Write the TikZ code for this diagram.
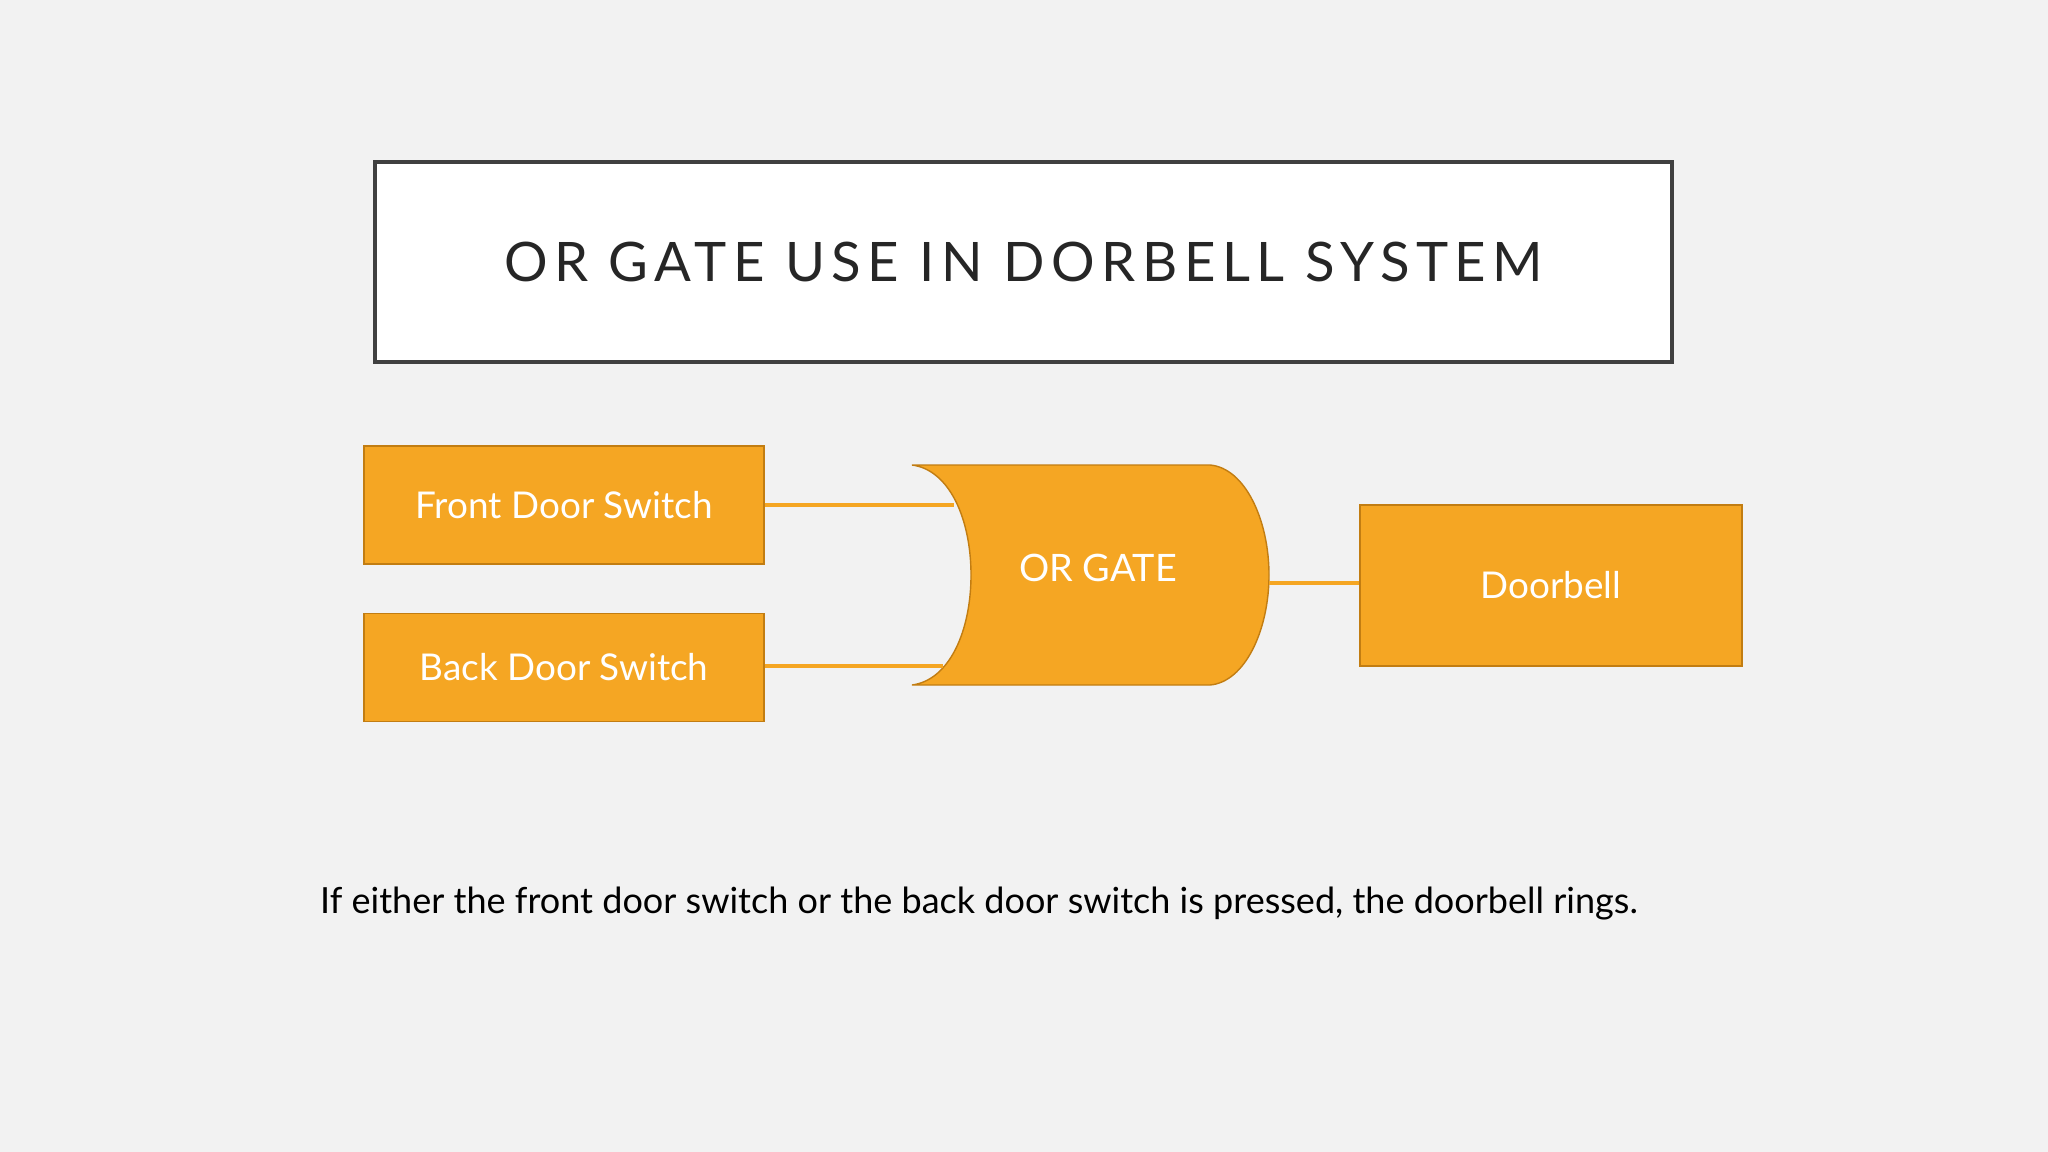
\documentclass[tikz,border=0pt]{standalone}
\usepackage{fontspec}
\setmainfont{Lato}
\newfontfamily\titlefont[LetterSpace=12]{Lato}
\usetikzlibrary{positioning}
\definecolor{slidebg}{HTML}{F2F2F2}
\definecolor{boxfill}{HTML}{F5A623}
\definecolor{boxline}{HTML}{C27D12}
\definecolor{titleline}{HTML}{404040}
\definecolor{titletext}{HTML}{262626}
\tikzset{
  titleblk/.style={draw=titleline, line width=2.3pt, fill=white, rectangle, minimum width=25.94cm, minimum height=4cm, align=center, font=\titlefont\fontsize{31}{36}\selectfont, text=titletext},
  swblk/.style={draw=boxline, line width=0.8pt, fill=boxfill, rectangle, minimum width=8cm, align=center, font=\fontsize{21}{24}\selectfont, text=white},
  wire/.style={draw=boxfill, line width=2.2pt},
}
\begin{document}
\begin{tikzpicture}[x=0.02cm, y=-0.02cm]
\fill[slidebg] (0,0) rectangle (2048,1152);
\useasboundingbox (0,0) rectangle (2048,1152);

\node[titleblk] (title) at (1023.5,262) {OR GATE USE IN DORBELL SYSTEM};

\node[swblk, minimum height=2.36cm] (front) at (564,505) {Front Door Switch};
\node[swblk, minimum height=2.16cm, below=0.96cm of front] (back) {Back Door Switch};
\node[swblk, minimum width=7.64cm, minimum height=3.22cm] (bell) at (1551,585.5) {Doorbell};

% or gate body
\draw[boxline, line width=0.8pt, fill=boxfill]
  (912,465) .. controls (950,470) and (971,520) .. (971,575)
  .. controls (971,630) and (950,680) .. (912,685)
  -- (1210,685) .. controls (1245,682) and (1269,630) .. (1269,575)
  .. controls (1269,520) and (1245,468) .. (1210,465) -- cycle;
\node[font=\fontsize{21.5}{24}\selectfont, text=white] (gate) at (1098,568) {OR GATE};
\coordinate (inA) at (954,505);
\coordinate (inB) at (943,666);
\coordinate (outp) at (1269,583);

\draw[wire] (front.east |- inA) -- (inA);
\draw[wire] (back.east |- inB) -- (inB);
\draw[wire] (outp) -- (bell.west |- outp);

\node[font=\fontsize{20.5}{24}\selectfont, anchor=base west] (caption) at (314,913)
  {If either the front door switch or the back door switch is pressed, the doorbell rings.};

\end{tikzpicture}
\end{document}
